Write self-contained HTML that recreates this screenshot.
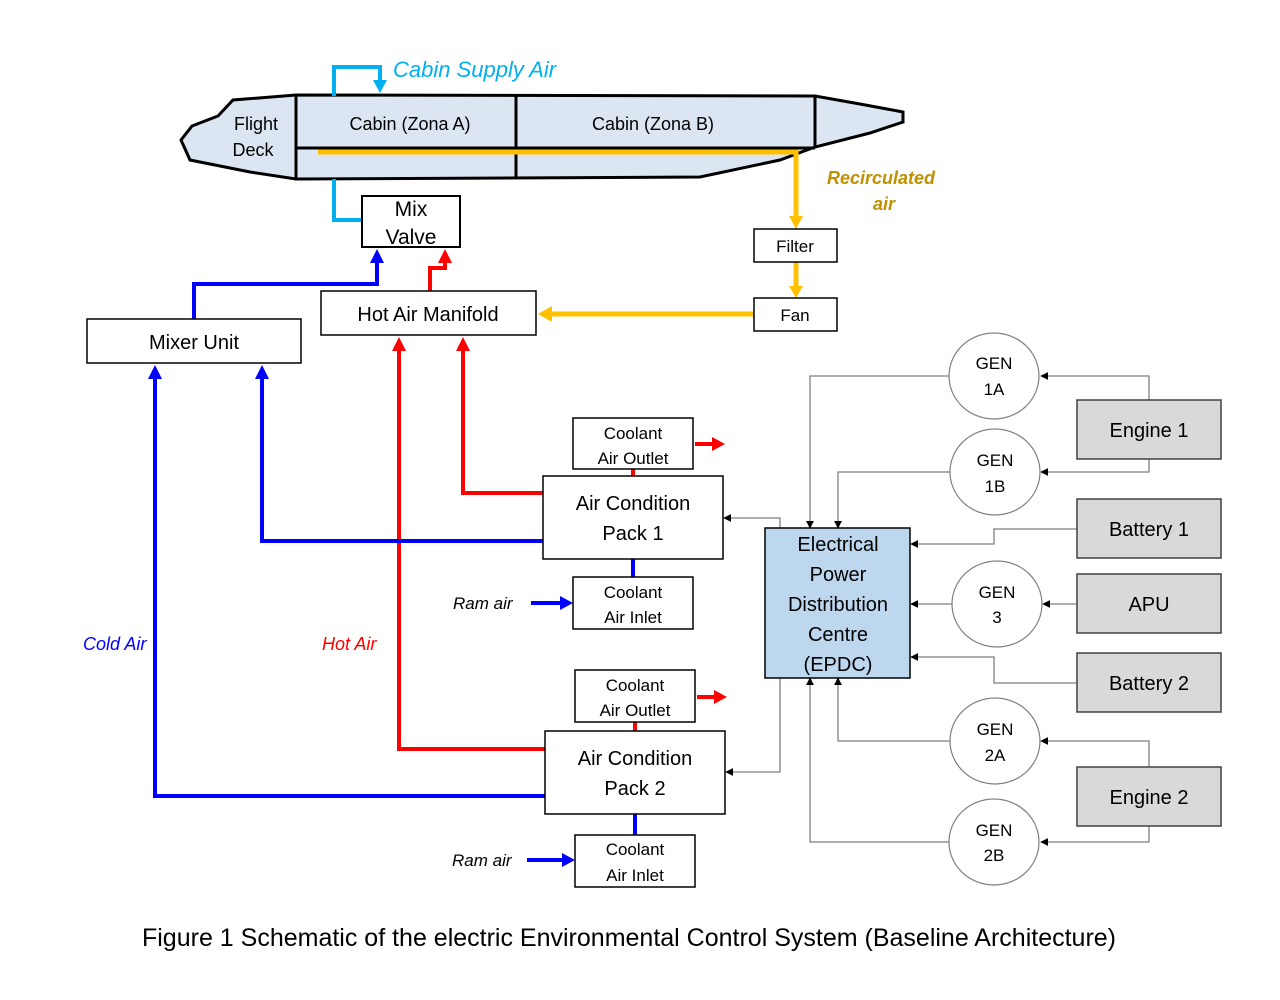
<!DOCTYPE html>
<html><head><meta charset="utf-8"><style>
html,body{margin:0;padding:0;background:#fff;}
svg{display:block;font-family:"Liberation Sans",sans-serif;}
</style></head><body>
<svg width="1280" height="1000" viewBox="0 0 1280 1000" xmlns="http://www.w3.org/2000/svg">
<defs>
<marker id="ag" viewBox="0 0 10 10" refX="9" refY="5" markerWidth="8" markerHeight="8" markerUnits="userSpaceOnUse" orient="auto"><path d="M0,0L10,5L0,10z" fill="#000"/></marker>
</defs>
<polygon points="181,140 192,126 218,116 233,100 296,95 815,96 860,104 903,112 903,122 870,133 815,147 780,160 700,177 296,179 250,172 190,160" fill="#dce6f2" stroke="#000" stroke-width="3"/>
<line x1="296" y1="95" x2="296" y2="179" stroke="#000" stroke-width="3"/>
<line x1="516" y1="96" x2="516" y2="178" stroke="#000" stroke-width="3"/>
<line x1="815" y1="96" x2="815" y2="147" stroke="#000" stroke-width="3"/>
<line x1="296" y1="148" x2="815" y2="148" stroke="#000" stroke-width="3"/>
<text x="256" y="130" font-size="18" text-anchor="middle">Flight</text>
<text x="253" y="156" font-size="18" text-anchor="middle">Deck</text>
<text x="410" y="130" font-size="18" text-anchor="middle">Cabin (Zona A)</text>
<text x="653" y="130" font-size="18" text-anchor="middle">Cabin (Zona B)</text>
<polyline points="318,152 796,152 796,218" fill="none" stroke="#ffc000" stroke-width="5"/>
<polygon points="789,216 803,216 796,229" fill="#ffc000"/>
<polyline points="796,262 796,288" fill="none" stroke="#ffc000" stroke-width="5"/>
<polygon points="789,286 803,286 796,298" fill="#ffc000"/>
<line x1="755" y1="314" x2="550" y2="314" stroke="#ffc000" stroke-width="5"/>
<polygon points="552,306 552,322 538,314" fill="#ffc000"/>
<text x="935" y="184" font-size="18" font-weight="bold" font-style="italic" fill="#bf9000" text-anchor="end">Recirculated</text>
<text x="895" y="210" font-size="18" font-weight="bold" font-style="italic" fill="#bf9000" text-anchor="end">air</text>
<polyline points="334,96 334,67 380,67 380,82" fill="none" stroke="#00b0f0" stroke-width="4"/>
<polygon points="373,80 387,80 380,93" fill="#00b0f0"/>
<polyline points="334,179 334,220 362,220" fill="none" stroke="#00b0f0" stroke-width="4"/>
<text x="393" y="77" font-size="22" font-style="italic" fill="#00b0f0">Cabin Supply Air</text>
<rect x="362" y="196" width="98" height="51" fill="#fff" stroke="#000" stroke-width="2"/>
<text x="411" y="216" font-size="21" text-anchor="middle">Mix</text>
<text x="411" y="244" font-size="21" text-anchor="middle">Valve</text>
<polyline points="194,319 194,284 377,284 377,262" fill="none" stroke="#0000ff" stroke-width="4"/>
<polygon points="370,263 384,263 377,249" fill="#0000ff"/>
<polyline points="430,291 430,268 445,268 445,262" fill="none" stroke="#ff0000" stroke-width="4"/>
<polygon points="438,263 452,263 445,249" fill="#ff0000"/>
<rect x="321" y="291" width="215" height="44" fill="#fff" stroke="#000" stroke-width="1.5"/>
<text x="428" y="321" font-size="20" text-anchor="middle">Hot Air Manifold</text>
<rect x="754" y="229" width="83" height="33" fill="#fff" stroke="#000" stroke-width="1.5"/>
<text x="795" y="252" font-size="17" text-anchor="middle">Filter</text>
<rect x="754" y="298" width="83" height="33" fill="#fff" stroke="#000" stroke-width="1.5"/>
<text x="795" y="321" font-size="17" text-anchor="middle">Fan</text>
<rect x="87" y="319" width="214" height="44" fill="#fff" stroke="#000" stroke-width="1.5"/>
<text x="194" y="349" font-size="20" text-anchor="middle">Mixer Unit</text>
<polyline points="545,749 399,749 399,350" fill="none" stroke="#ff0000" stroke-width="4"/>
<polygon points="392,351 406,351 399,337" fill="#ff0000"/>
<polyline points="543,493 463,493 463,350" fill="none" stroke="#ff0000" stroke-width="4"/>
<polygon points="456,351 470,351 463,337" fill="#ff0000"/>
<polyline points="543,541 262,541 262,378" fill="none" stroke="#0000ff" stroke-width="4"/>
<polygon points="255,379 269,379 262,365" fill="#0000ff"/>
<polyline points="545,796 155,796 155,378" fill="none" stroke="#0000ff" stroke-width="4"/>
<polygon points="148,379 162,379 155,365" fill="#0000ff"/>
<text x="83" y="650" font-size="18" font-style="italic" fill="#0000ff">Cold Air</text>
<text x="322" y="650" font-size="18" font-style="italic" fill="#ff0000">Hot Air</text>
<line x1="633" y1="469" x2="633" y2="476" stroke="#ff0000" stroke-width="4"/>
<line x1="633" y1="559" x2="633" y2="577" stroke="#0000ff" stroke-width="4"/>
<rect x="573" y="418" width="120" height="51" fill="#fff" stroke="#000" stroke-width="1.5"/>
<text x="633" y="439" font-size="17" text-anchor="middle">Coolant</text>
<text x="633" y="464" font-size="17" text-anchor="middle">Air Outlet</text>
<line x1="695" y1="444" x2="714" y2="444" stroke="#ff0000" stroke-width="4"/>
<polygon points="712,437 725,444 712,451" fill="#ff0000"/>
<rect x="543" y="476" width="180" height="83" fill="#fff" stroke="#000" stroke-width="1.5"/>
<text x="633" y="510" font-size="20" text-anchor="middle">Air Condition</text>
<text x="633" y="540" font-size="20" text-anchor="middle">Pack 1</text>
<rect x="573" y="577" width="120" height="52" fill="#fff" stroke="#000" stroke-width="1.5"/>
<text x="633" y="598" font-size="17" text-anchor="middle">Coolant</text>
<text x="633" y="623" font-size="17" text-anchor="middle">Air Inlet</text>
<text x="453" y="609" font-size="17" font-style="italic">Ram air</text>
<line x1="531" y1="603" x2="562" y2="603" stroke="#0000ff" stroke-width="4"/>
<polygon points="560,596 573,603 560,610" fill="#0000ff"/>
<line x1="635" y1="722" x2="635" y2="731" stroke="#ff0000" stroke-width="4"/>
<line x1="635" y1="814" x2="635" y2="835" stroke="#0000ff" stroke-width="4"/>
<rect x="575" y="670" width="120" height="52" fill="#fff" stroke="#000" stroke-width="1.5"/>
<text x="635" y="691" font-size="17" text-anchor="middle">Coolant</text>
<text x="635" y="716" font-size="17" text-anchor="middle">Air Outlet</text>
<line x1="697" y1="697" x2="716" y2="697" stroke="#ff0000" stroke-width="4"/>
<polygon points="714,690 727,697 714,704" fill="#ff0000"/>
<rect x="545" y="731" width="180" height="83" fill="#fff" stroke="#000" stroke-width="1.5"/>
<text x="635" y="765" font-size="20" text-anchor="middle">Air Condition</text>
<text x="635" y="795" font-size="20" text-anchor="middle">Pack 2</text>
<rect x="575" y="835" width="120" height="52" fill="#fff" stroke="#000" stroke-width="1.5"/>
<text x="635" y="855" font-size="17" text-anchor="middle">Coolant</text>
<text x="635" y="881" font-size="17" text-anchor="middle">Air Inlet</text>
<text x="452" y="866" font-size="17" font-style="italic">Ram air</text>
<line x1="527" y1="860" x2="564" y2="860" stroke="#0000ff" stroke-width="4"/>
<polygon points="562,853 575,860 562,867" fill="#0000ff"/>
<g fill="none" stroke="#7f7f7f" stroke-width="1.3" marker-end="url(#ag)">
<polyline points="949,376 810,376 810,528"/>
<polyline points="1149,400 1149,376 1041,376"/>
<polyline points="950,472 838,472 838,528"/>
<polyline points="1149,459 1149,472 1041,472"/>
<polyline points="1077,529 994,529 994,544 911,544"/>
<polyline points="1077,604 1043,604"/>
<polyline points="952,604 911,604"/>
<polyline points="1077,683 994,683 994,657 911,657"/>
<polyline points="950,741 838,741 838,678"/>
<polyline points="1149,767 1149,741 1041,741"/>
<polyline points="949,842 810,842 810,678"/>
<polyline points="1149,826 1149,842 1041,842"/>
<polyline points="780,528 780,518 724,518"/>
<polyline points="780,678 780,772 726,772"/>
</g>
<rect x="765" y="528" width="145" height="150" fill="#bdd7ee" stroke="#000" stroke-width="1.5"/>
<g font-size="20" text-anchor="middle">
<text x="838" y="551">Electrical</text>
<text x="838" y="581">Power</text>
<text x="838" y="611">Distribution</text>
<text x="838" y="641">Centre</text>
<text x="838" y="671">(EPDC)</text>
</g>
<g fill="#fff" stroke="#7f7f7f" stroke-width="1.2">
<ellipse cx="994" cy="376" rx="45" ry="43"/>
<ellipse cx="995" cy="472" rx="45" ry="43"/>
<ellipse cx="997" cy="604" rx="45" ry="43"/>
<ellipse cx="995" cy="741" rx="45" ry="43"/>
<ellipse cx="994" cy="842" rx="45" ry="43"/>
</g>
<g font-size="17" text-anchor="middle">
<text x="994" y="369">GEN</text><text x="994" y="395">1A</text>
<text x="995" y="466">GEN</text><text x="995" y="492">1B</text>
<text x="997" y="598">GEN</text><text x="997" y="623">3</text>
<text x="995" y="735">GEN</text><text x="995" y="761">2A</text>
<text x="994" y="836">GEN</text><text x="994" y="861">2B</text>
</g>
<g fill="#d9d9d9" stroke="#404040" stroke-width="1.5">
<rect x="1077" y="400" width="144" height="59"/>
<rect x="1077" y="499" width="144" height="59"/>
<rect x="1077" y="574" width="144" height="59"/>
<rect x="1077" y="653" width="144" height="59"/>
<rect x="1077" y="767" width="144" height="59"/>
</g>
<g font-size="20" text-anchor="middle">
<text x="1149" y="437">Engine 1</text>
<text x="1149" y="536">Battery 1</text>
<text x="1149" y="611">APU</text>
<text x="1149" y="690">Battery 2</text>
<text x="1149" y="804">Engine 2</text>
</g>
<text x="629" y="946" font-size="25" text-anchor="middle">Figure 1 Schematic of the electric Environmental Control System (Baseline Architecture)</text>
</svg>
</body></html>
